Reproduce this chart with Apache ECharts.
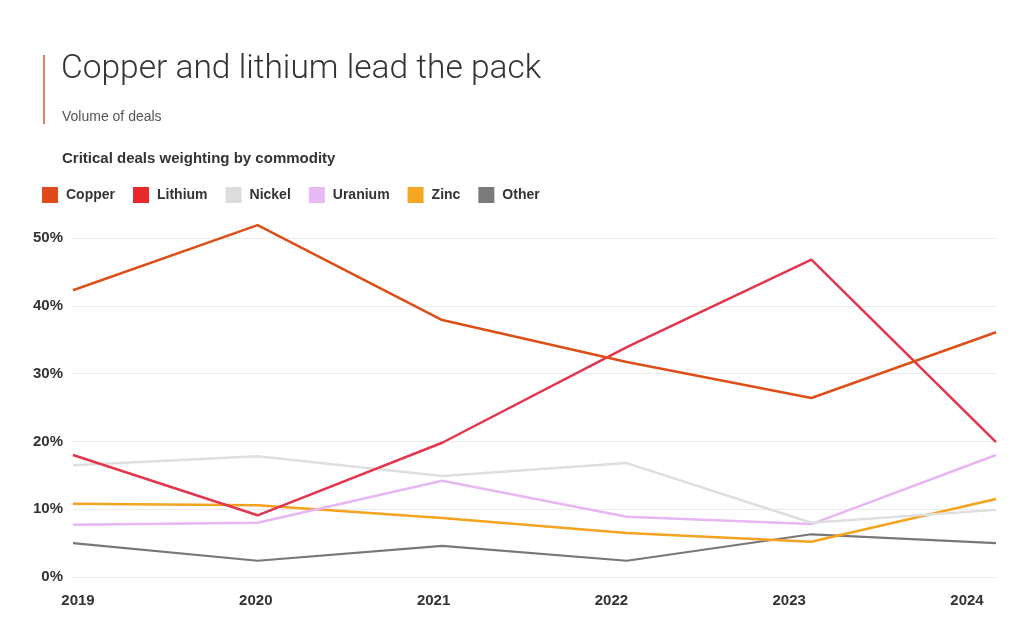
<!DOCTYPE html>
<html>
<head>
<meta charset="utf-8">
<script src="https://cdn.jsdelivr.net/npm/echarts@6/dist/echarts.min.js"></script>
<style>
  html, body { margin: 0; padding: 0; background: #fff; }
  #chart { width: 1024px; height: 626px; }
</style>
</head>
<body>
<div id="chart"></div>
<script>
// years on the x axis
var years = ['2019', '2020', '2021', '2022', '2023', '2024'];
var yTicks = [0, 10, 20, 30, 40, 50];

// share of critical deals, in %
var copper  = [42.3, 51.9, 37.9, 31.7, 26.4, 36.1];
var lithium = [18.0, 9.1, 19.8, 33.9, 46.8, 19.9];
var nickel  = [16.5, 17.8, 14.9, 16.8, 8.0, 9.9];
var uranium = [7.7, 8.0, 14.2, 8.9, 7.8, 18.0];
var zinc    = [10.8, 10.6, 8.7, 6.5, 5.2, 11.5];
var other   = [5.0, 2.4, 4.6, 2.4, 6.3, 5.0];

var font = '"Liberation Sans", Arial, sans-serif';
var chart = echarts.init(document.getElementById('chart'), null, { renderer: 'canvas' });

// one helper per line so the styling stays in one place
var makeLine = function (name, data, lineColor, keyColor, width) {
  return {
    name: name,
    type: 'line',
    data: data,
    xAxisIndex: 0,
    yAxisIndex: 0,
    showSymbol: false,
    symbol: 'none',
    clip: false,
    animation: false,
    lineStyle: { color: lineColor, width: width },
    itemStyle: { color: keyColor }
  };
};

var option = {
  backgroundColor: '#fff',
  textStyle: { fontFamily: font },
  title: [
    {
      text: 'Copper and lithium lead the pack',
      left: 61, top: 53, padding: 0,
      textStyle: { fontFamily: 'Roboto, ' + font, fontSize: 33.5, fontWeight: 300, color: '#333' }
    },
    {
      text: 'Volume of deals',
      left: 62, top: 110, padding: 0,
      textStyle: { fontFamily: font, fontSize: 14, fontWeight: 'normal', color: '#555' }
    },
    {
      text: 'Critical deals weighting by commodity',
      left: 62, top: 151, padding: 0,
      textStyle: { fontFamily: font, fontSize: 15, fontWeight: 'bold', color: '#333' }
    }
  ],
  graphic: [
    {
      type: 'rect',
      shape: { x: 43, y: 55, width: 2, height: 69 },
      style: { fill: '#e0835a' }
    }
  ],
  legend: {
    left: 42, top: 187, padding: 0,
    icon: 'rect',
    itemWidth: 16, itemHeight: 16,
    itemGap: 18,
    textStyle: { fontFamily: font, fontSize: 14, fontWeight: 'bold', color: '#333', padding: [0, 0, 0, 3] },
    data: ['Copper', 'Lithium', 'Nickel', 'Uranium', 'Zinc', 'Other']
  },
  grid: [
    { left: 73, right: 28, top: 238, bottom: 49 },
    { left: 78, right: 57, top: 238, bottom: 49 }
  ],
  xAxis: [
    {
      gridIndex: 0,
      type: 'category',
      data: years,
      boundaryGap: false,
      axisLine: { show: false },
      axisTick: { show: false },
      axisLabel: { show: false }
    },
    {
      // labels only, the reference spaces them a bit tighter than the points
      gridIndex: 1,
      type: 'category',
      data: years,
      boundaryGap: false,
      axisLine: { show: false },
      axisTick: { show: false },
      axisLabel: { fontFamily: font, fontSize: 15, fontWeight: 'bold', color: '#333', margin: 16 }
    }
  ],
  yAxis: [
    {
      gridIndex: 0,
      type: 'value',
      min: yTicks[0],
      max: yTicks[yTicks.length - 1],
      interval: 10,
      axisLine: { show: false },
      axisTick: { show: false },
      axisLabel: {
        formatter: '{value}%',
        fontFamily: font, fontSize: 15, fontWeight: 'bold', color: '#333', margin: 10
      },
      splitLine: { lineStyle: { color: '#ebebeb', width: 1 } }
    },
    {
      gridIndex: 1,
      type: 'value',
      min: 0, max: 50,
      show: false
    }
  ],
  series: [
    makeLine('Other', other, '#777777', '#7a7a7a', 2.2),
    makeLine('Zinc', zinc, '#f4a31f', '#f6a623', 2.5),
    makeLine('Uranium', uranium, '#e7b6f3', '#e6b8f4', 2.5),
    makeLine('Nickel', nickel, '#dedede', '#dcdcdc', 2.5),
    makeLine('Lithium', lithium, '#e2364f', '#e8292b', 2.5),
    makeLine('Copper', copper, '#dd4f18', '#e04a1a', 2.5)
  ]
};

chart.setOption(option);
</script>
</body>
</html>
